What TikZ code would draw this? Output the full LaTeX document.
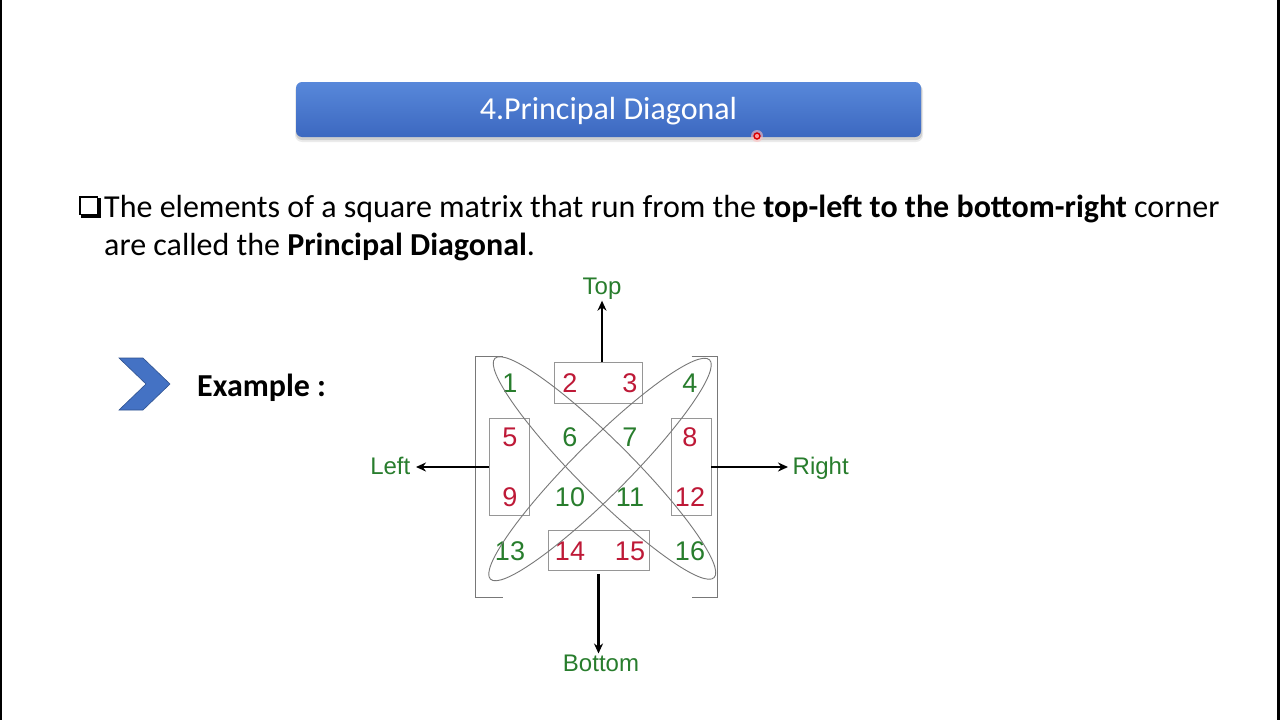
\documentclass[tikz,border=0pt]{standalone}
\usepackage{fontspec}
\setmainfont{Carlito}
\newfontfamily\arialf{Liberation Sans}
\usetikzlibrary{arrows.meta}
\definecolor{barA}{RGB}{88,136,218}
\definecolor{barB}{RGB}{60,104,192}
\definecolor{chevfill}{RGB}{68,114,196}
\definecolor{chevdraw}{RGB}{47,82,143}
\definecolor{dgreen}{RGB}{40,125,45}
\definecolor{dred}{RGB}{190,25,55}
\definecolor{linegray}{RGB}{120,120,120}
\definecolor{boxgray}{RGB}{150,150,150}
\tikzset{
  num/.style={font=\arialf\fontsize{27}{31}\selectfont, inner sep=0pt},
  grn/.style={num, text=dgreen},
  rd/.style={num, text=dred},
  lbl/.style={font=\arialf\fontsize{24}{28}\selectfont, text=dgreen, inner sep=1.5pt},
  pairbox/.style={draw=boxgray, line width=0.9pt, inner sep=0pt},
  arr/.style={line width=2.4pt, -{Stealth[length=10pt,width=9pt]}},
  bodytext/.style={font=\fontsize{32}{38}\selectfont, inner sep=0pt, anchor=base west},
}
\begin{document}
\begin{tikzpicture}[x=1pt,y=-1pt]
\useasboundingbox (0,0) rectangle (1280,720);
\fill[white] (0,0) rectangle (1280,720);
\fill[black] (0,0) rectangle (2,720);
\fill[black] (1277,0) rectangle (1280,720);

% title bar
\fill[black,opacity=0.08,rounded corners=7] (295,84) rectangle (923,142);
\fill[black,opacity=0.12,rounded corners=6] (296,84) rectangle (922,140);
\shade[top color=barA,bottom color=barB,rounded corners=6] (296,82) rectangle (921,137);
\node[font=\fontsize{32}{38}\selectfont, text=white] (title) at (608.5,111) {4.Principal Diagonal};
\fill[red!25,opacity=0.6] (757,136) circle (6);
\draw[red!85!black,fill=red!40,line width=1.4pt] (757,136) circle (3);

% bullet
\draw[line width=1.6pt] (80,197) rectangle (97.5,214.5);
\fill[black] (80.5,214.5) rectangle (100.5,217.8);
\fill[black] (97.5,197.5) rectangle (100.5,217.8);
\node[bodytext] (l1) at (104,217) {The elements of a square matrix that run from the \textbf{top-left to the bottom-right} corner};
\node[bodytext] (l2) at (104,255.5) {are called the \textbf{Principal Diagonal}.};

% chevron + Example
\filldraw[fill=chevfill,draw=chevdraw,line width=0.6pt]
  (119,358) -- (143,358) -- (170,384) -- (143,410) -- (119,410) -- (146,384) -- cycle;
\node[bodytext,font=\bfseries\fontsize{32}{38}\selectfont] (ex) at (197,396.5) {Example :};

% bracket
\draw[draw=linegray,line width=1pt] (503,356.7) -- (475.7,356.7) -- (475.7,597.3) -- (503,597.3);
\draw[draw=linegray,line width=1pt] (691.7,356.7) -- (717.7,356.7) -- (717.7,597.3) -- (691.7,597.3);

% pair boxes
\node[pairbox,minimum width=88pt,minimum height=41pt] (tb) at (598.5,383) {};
\node[pairbox,minimum width=40pt,minimum height=97pt] (lb) at (509.3,467) {};
\node[pairbox,minimum width=40pt,minimum height=97pt] (rb) at (691,467) {};
\node[pairbox,minimum width=101pt,minimum height=40pt] (bb) at (598.5,550.5) {};

% numbers
\node[grn] (n1) at (510,383) {1};
\node[rd]  (n2) at (570,383) {2};
\node[rd]  (n3) at (630,383) {3};
\node[grn] (n4) at (690,383) {4};
\node[rd]  (n5) at (510,437) {5};
\node[grn] (n6) at (570,437) {6};
\node[grn] (n7) at (630,437) {7};
\node[rd]  (n8) at (690,437) {8};
\node[rd]  (n9) at (510,497) {9};
\node[grn] (n10) at (570,497) {10};
\node[grn] (n11) at (630,497) {11};
\node[rd]  (n12) at (690,497) {12};
\node[grn] (n13) at (510,551) {13};
\node[rd]  (n14) at (570,551) {14};
\node[rd]  (n15) at (630,551) {15};
\node[grn] (n16) at (690,551) {16};

% ellipses
\draw[linegray,line width=0.9pt,rotate around={-45:(604.5,468)}] (604.5,468) ellipse (155 and 27);
\draw[linegray,line width=0.9pt,rotate around={45:(600,469.5)}] (600,469.5) ellipse (155 and 27);

% labels
\node[lbl,anchor=base] (tl) at (602,294) {Top};
\node[lbl,anchor=base east] (ll) at (412,474) {Left};
\node[lbl,anchor=base west] (rl) at (791,474) {Right};
\node[lbl,anchor=base] (bl) at (601,671.7) {Bottom};

% arrows
\draw[arr] (tb.north -| tl.south) -- (tl.south);
\draw[arr] (lb.west) -- ([xshift=4pt]lb.west -| ll.east);
\draw[arr] (rb.east) -- ([xshift=-3pt]rb.east -| rl.west);
\draw[arr] ([yshift=-3pt]bb.south) -- (bb.south |- bl.north);
\end{tikzpicture}
\end{document}
